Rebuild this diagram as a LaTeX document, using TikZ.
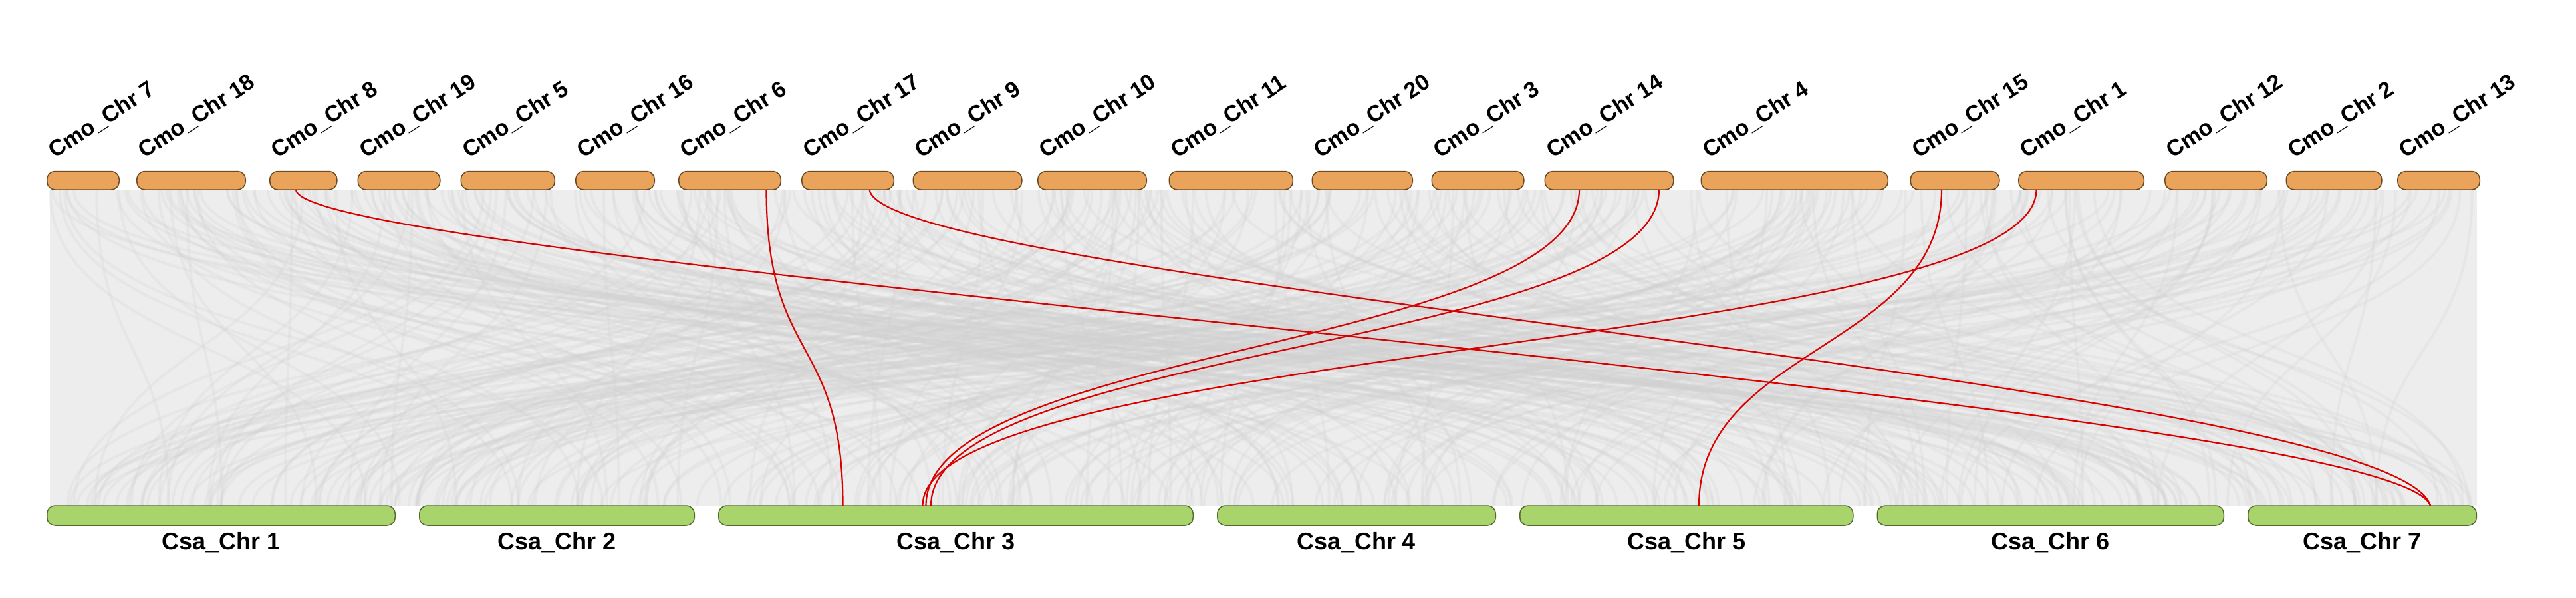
\documentclass[tikz,border=0pt]{standalone}
\usepackage{fontspec}
\setmainfont{Liberation Sans}
\usetikzlibrary{calc}
\definecolor{cmofill}{HTML}{E9A35A}
\definecolor{cmoedge}{HTML}{6B4A22}
\definecolor{csafill}{HTML}{A9D46C}
\definecolor{csaedge}{HTML}{4F6B2E}
\begin{document}
\begin{tikzpicture}[x=2.5pt,y=-2.5pt,
  topbar/.style={draw=cmoedge,line width=1.5pt,fill=cmofill,rounded corners=12pt,minimum height=27.5pt,inner sep=0pt,outer sep=0pt},
  botbar/.style={draw=csaedge,line width=1.5pt,fill=csafill,rounded corners=12pt,minimum height=30pt,inner sep=0pt,outer sep=0pt},
  toplab/.style={font=\fontsize{34}{38}\selectfont\bfseries,rotate=33,anchor=south west,inner sep=0pt},
  botlab/.style={font=\fontsize{36}{40}\selectfont\bfseries,anchor=north,inner sep=0pt},
  greylink/.style={draw=black!18,line width=4pt,opacity=0.22},
  redlink/.style={draw=red!85!black,line width=2.2pt}]
\useasboundingbox (0,0) rectangle (1549.6,359.6);
\fill[white] (0,0) rectangle (1549.6,359.6);
\fill[black!7] (30,114) rectangle (1490,304);
\pgfmathsetseed{7}
\foreach \i in {1,...,450}{
  \pgfmathsetmacro\a{30+rnd*1460}
  \pgfmathsetmacro\b{30+rnd*1458}
  \draw[greylink] (\a,114) .. controls (\a,215) and (\b,205) .. (\b,304);
}
\foreach \xa/\xb/\n in {28/72/7,82/148/18,162/203/8,215/265/19,277/334/5,346/394/16,408/470/6,482/538/17,549/615/9,624/690/10,703/778/11,789/850/20,861/917/3,929/1007/14,1023/1136/4,1149/1203/15,1214/1290/1,1302/1364/12,1375/1433/2,1442/1492/13}{
  \pgfmathsetmacro\w{(\xb-\xa)*2.5-1.5}
  \node[topbar,minimum width=\w pt] (cmo\n) at ({(\xa+\xb)/2},108.5) {};
  \node[toplab] (cmolab\n) at (\xa+6,97) {Cmo\_Chr \n};
}
\foreach \xa/\xb/\n in {28/238/1,252/418/2,432/718/3,732/900/4,914/1115/5,1129/1338/6,1352/1490/7}{
  \pgfmathsetmacro\w{(\xb-\xa)*2.5-1.5}
  \node[botbar,minimum width=\w pt] (csa\n) at ({(\xa+\xb)/2},310) {};
  \node[botlab] (csalab\n) at ({(\xa+\xb)/2},320) {Csa\_Chr \n};
}
\coordinate (t1) at (178,114); \coordinate (b1) at (1462,304);
\coordinate (t2) at (461,114); \coordinate (b2) at (507,304);
\coordinate (t3) at (523,114); \coordinate (b3) at (1462,304);
\coordinate (t4) at (950,114); \coordinate (b4) at (557,304);
\coordinate (t5) at (998,114); \coordinate (b5) at (560,304);
\coordinate (t6) at (1168,114); \coordinate (b6) at (1022,304);
\coordinate (t7) at (1225,114); \coordinate (b7) at (555,304);
\draw[redlink] (t1) .. controls (180,160) and (1440,240) .. (b1);
\draw[redlink] (t2) .. controls (461,220) and (507,200) .. (b2);
\draw[redlink] (t3) .. controls (530,170) and (1440,230) .. (b3);
\foreach \k in {4,5,6,7}{
  \draw[redlink] (t\k) .. controls ($(t\k)+(0,95)$) and ($(b\k)+(0,-95)$) .. (b\k);
}
\end{tikzpicture}
\end{document}
